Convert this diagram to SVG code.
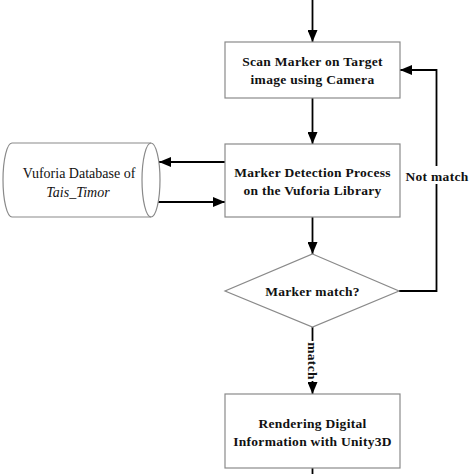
<svg xmlns="http://www.w3.org/2000/svg" width="474" height="474" viewBox="0 0 474 474">
<defs>
<marker id="ah" markerWidth="12" markerHeight="10" refX="12" refY="5" orient="auto" markerUnits="userSpaceOnUse">
<path d="M0,0 L12,5 L0,10 Z" fill="#000"/>
</marker>
<style>
.box{fill:#fff;stroke:#8a8a8a;stroke-width:1.2}
.c{fill:none;stroke:#000;stroke-width:1.8}
.b{font-family:"Liberation Serif",serif;font-weight:bold;font-size:13.5px;letter-spacing:0.3px;fill:#111;text-anchor:middle}
.n{font-family:"Liberation Serif",serif;font-size:14px;fill:#111;text-anchor:middle}
</style>
</defs>
<rect width="474" height="474" fill="#fff"/>
<g id="connectors">
<line class="c" x1="312.5" y1="0" x2="312.5" y2="42" marker-end="url(#ah)"/>
<line class="c" x1="312.5" y1="98" x2="312.5" y2="144" marker-end="url(#ah)"/>
<line class="c" x1="225" y1="162" x2="159" y2="162" marker-end="url(#ah)"/>
<line class="c" x1="157" y1="202" x2="225" y2="202" marker-end="url(#ah)"/>
<line class="c" x1="312.5" y1="217" x2="312.5" y2="254" marker-end="url(#ah)"/>
<polyline class="c" points="399,291 436.5,291 436.5,70 400,70" marker-end="url(#ah)"/>
<line class="c" x1="312.5" y1="327" x2="312.5" y2="394" marker-end="url(#ah)"/>
<line class="c" x1="312.5" y1="468" x2="312.5" y2="474"/>
<rect x="404" y="166" width="66" height="18" fill="#fff"/>
<text class="b" x="437" y="181">Not match</text>
<rect x="305" y="341" width="15" height="40" fill="#fff"/>
<text class="b" transform="translate(308,361) rotate(90)" font-size="12" letter-spacing="1">match</text>
</g>
<g id="scan">
<rect class="box" x="225" y="42" width="175" height="56"/>
<text class="b" x="312.5" y="66">Scan Marker on Target</text>
<text class="b" x="312.5" y="84">image using Camera</text>
</g>
<g id="detect">
<rect class="box" x="225" y="144" width="175" height="73"/>
<text class="b" x="312.5" y="177">Marker Detection Process</text>
<text class="b" x="312.5" y="195">on the Vuforia Library</text>
</g>
<g id="database">
<path class="box" d="M12,143 L151,143 A9,37 0 0 1 151,217 L12,217 A9,37 0 0 1 12,143 Z"/>
<path d="M151,143 A9,37 0 0 0 151,217" fill="none" stroke="#8a8a8a" stroke-width="1.2"/>
<text class="n" x="79" y="178">Vuforia Database of</text>
<text class="n" x="78" y="197" font-style="italic">Tais_Timor</text>
</g>
<g id="decision">
<polygon class="box" points="312.5,254 399,291 312.5,327 225,291"/>
<text class="b" x="312.5" y="296">Marker match?</text>
</g>
<g id="render">
<rect class="box" x="225" y="394" width="175" height="74"/>
<text class="b" x="312.5" y="428">Rendering Digital</text>
<text class="b" x="312.5" y="446">Information with Unity3D</text>
</g>
</svg>
